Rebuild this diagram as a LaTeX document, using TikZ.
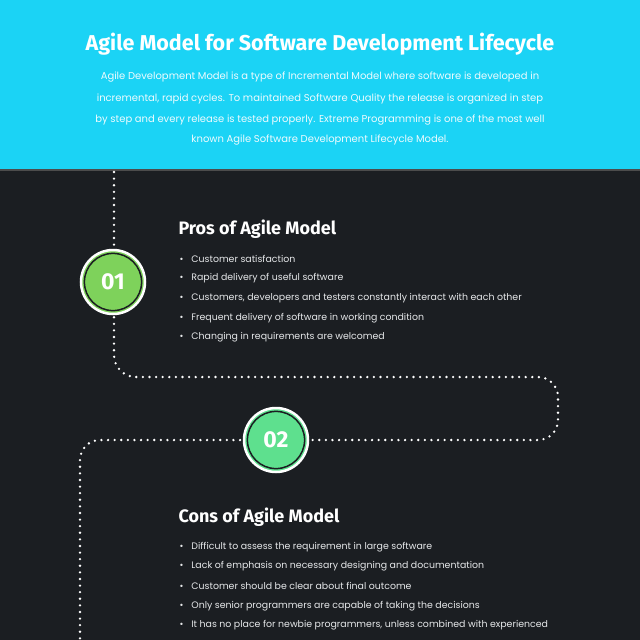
\documentclass[tikz,border=0pt]{standalone}
\usepackage{fontspec}
\setmainfont{Poppins}
\newfontfamily\headf{Fira Sans}
\definecolor{cyanbg}{HTML}{1BD3F5}
\definecolor{darkbg}{HTML}{1B1E22}
\definecolor{txt}{HTML}{E6E8EA}
\definecolor{g1}{HTML}{7ED25B}
\definecolor{g2}{HTML}{5EE08E}
\tikzset{
  dots/.style={white,line width=2.6pt,line cap=round,dash pattern=on 0pt off 6.6pt},
  numc/.style={circle,draw=white,line width=2.5pt,minimum size=64pt,inner sep=0pt,text=white,font=\headf\bfseries\fontsize{23}{23}\selectfont},
  ttl/.style={anchor=west,text=white,font=\headf\bfseries\fontsize{18}{18}\selectfont},
  item/.style={anchor=west,text=txt,font=\fontsize{9.4}{9.4}\selectfont},
  para/.style={text=white!92!cyanbg,font=\fontsize{10}{10}\selectfont}
}
\begin{document}
\begin{tikzpicture}[x=1pt,y=-1pt]
\fill[darkbg] (0,0) rectangle (640,640);
\useasboundingbox (0,0) rectangle (640,640);
\fill[cyanbg] (0,0) rectangle (640,169);
\fill[black!70] (0,169) rectangle (640,171);
\node[text=white,font=\headf\bfseries\fontsize{21.5}{21.5}\selectfont] (title) at (320,44) {Agile Model for Software Development Lifecycle};
\node[para] (p1) at (320,77) {Agile Development Model is a type of Incremental Model where software is developed in};
\node[para] (p2) at (320,99) {incremental, rapid cycles. To maintained Software Quality the release is organized in step};
\node[para] (p3) at (320,120) {by step and every release is tested properly. Extreme Programming is one of the most well};
\node[para] (p4) at (320,140) {known Agile Software Development Lifecycle Model.};
\coordinate (top) at (114,172);
\coordinate (bot) at (80,645);
\draw[dots] (top) -- (114,355) arc[start angle=180,end angle=90,radius=22] -- (538,377) arc[start angle=-90,end angle=0,radius=20] -- (558,420) arc[start angle=0,end angle=90,radius=20] -- (100,440) arc[start angle=-90,end angle=-180,radius=20] -- (bot);
\node[numc,fill=g1] (c1) at (113,282) {01};
\node[numc,fill=g2] (c2) at (276,440) {02};
\draw[darkbg,line width=1.5pt] (c1) circle[radius=28.6pt];
\draw[darkbg,line width=1.5pt] (c2) circle[radius=28.6pt];
\node[ttl] (pros) at (175,229) {Pros of Agile Model};
\foreach \t [count=\i] in {Customer satisfaction,Rapid delivery of useful software,{Customers, developers and testers constantly interact with each other},Frequent delivery of software in working condition,Changing in requirements are welcomed}{
  \node[item] (pa\i) at (176,{259+19.6*(\i-1)}) {\textbullet\hspace{8pt}\t};
}
\node[ttl] (cons) at (175,517) {Cons of Agile Model};
\foreach \t [count=\i] in {Difficult to assess the requirement in large software,Lack of emphasis on necessary designing and documentation,Customer should be clear about final outcome,Only senior programmers are capable of taking the decisions,{It has no place for newbie programmers, unless combined with experienced}}{
  \node[item] (ca\i) at (176,{547+19.6*(\i-1)}) {\textbullet\hspace{8pt}\t};
}
\end{tikzpicture}
\end{document}
